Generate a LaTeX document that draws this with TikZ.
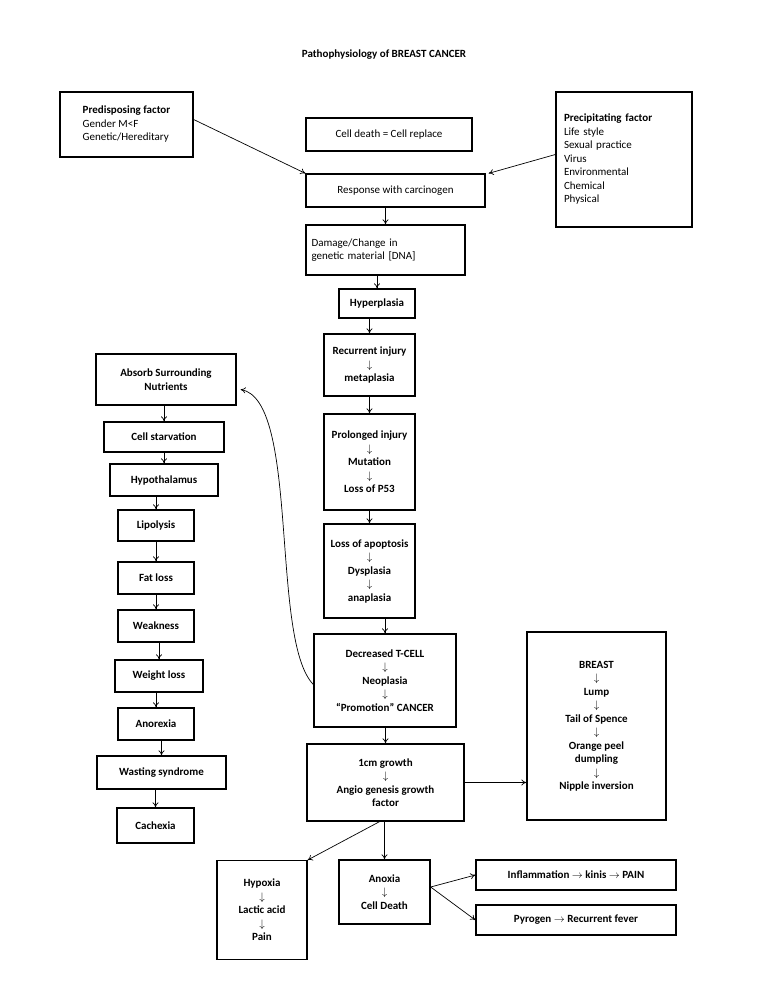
\documentclass[tikz,border=0pt]{standalone}
\usepackage{fontspec}
\setmainfont{Carlito}
\usetikzlibrary{arrows.meta}
\begin{document}
\begin{tikzpicture}[x=1pt,y=-1pt,
  box/.style={draw,line width=1.3pt,align=center,inner sep=1pt,font=\fontsize{11}{13.5}\selectfont},
  bbox/.style={box,font=\fontsize{11}{13.5}\selectfont\bfseries},
  arr/.style={-{To[length=5pt,width=6pt]},line width=0.7pt}]
\useasboundingbox (0,0) rectangle (768,994);
\newcommand{\da}{$\downarrow$}
\node[font=\fontsize{11}{13}\selectfont\bfseries] (title) at (384,55) {Pathophysiology of BREAST CANCER};
% top
\node[box,minimum width=133pt,minimum height=65pt,align=left] (pre) at (126.5,124.5) {\textbf{Predisposing factor}\\Gender M<F\\Genetic/Hereditary};
\node[box,minimum width=166pt,minimum height=33pt] (cd) at (389,134.5) {Cell death = Cell replace};
\node[box,minimum width=136pt,minimum height=135pt,align=left,text width=120pt] (prec) at (624,159.5) {\textbf{Precipitating factor}\\Life style\\Sexual practice\\Virus\\Environmental\\Chemical\\Physical};
\node[box,minimum width=179pt,minimum height=33pt] (resp) at (395.5,190.5) {Response with carcinogen};
\node[box,minimum width=159pt,minimum height=50pt,align=left,text width=148pt] (dam) at (385.5,250) {Damage/Change in\\genetic material [DNA]};
\node[bbox,minimum width=76pt,minimum height=29pt] (hyp) at (377,303.5) {Hyperplasia};
\node[bbox,minimum width=91pt,minimum height=62pt] (rec) at (369.5,365) {Recurrent injury\\\da\\metaplasia};
\node[bbox,minimum width=91pt,minimum height=96pt] (pro) at (369.5,462) {Prolonged injury\\\da\\Mutation\\\da\\Loss of P53};
\node[bbox,minimum width=91pt,minimum height=94pt] (apo) at (369.5,571) {Loss of apoptosis\\\da\\Dysplasia\\\da\\anaplasia};
\node[bbox,minimum width=142pt,minimum height=93pt] (tc) at (385,680.5) {Decreased T-CELL\\\da\\Neoplasia\\\da\\``Promotion'' CANCER};
\node[bbox,minimum width=157pt,minimum height=77pt] (gr) at (385.5,782.5) {1cm growth\\\da\\Angio genesis growth\\factor};
\node[bbox,minimum width=139pt,minimum height=188pt] (br) at (596.5,726) {BREAST\\\da\\Lump\\\da\\Tail of Spence\\\da\\Orange peel\\dumpling\\\da\\Nipple inversion};
\node[bbox,minimum width=90pt,minimum height=99pt,anchor=north] (hx) at (262,860) {Hypoxia\\\da\\Lactic acid\\\da\\Pain};
\node[bbox,minimum width=91pt,minimum height=64pt] (an) at (384.5,892) {Anoxia\\\da\\Cell Death};
\node[bbox,minimum width=200pt,minimum height=30pt] (inf) at (576,875) {Inflammation $\rightarrow$ kinis $\rightarrow$ PAIN};
\node[bbox,minimum width=200pt,minimum height=30pt] (pyr) at (576,920) {Pyrogen $\rightarrow$ Recurrent fever};
% left column
\node[bbox,minimum width=140pt,minimum height=51pt] (ab) at (166,379.5) {Absorb Surrounding\\Nutrients};
\node[bbox,minimum width=120pt,minimum height=30pt] (cs) at (164,437) {Cell starvation};
\node[bbox,minimum width=108pt,minimum height=32pt] (ht) at (164,480) {Hypothalamus};
\node[bbox,minimum width=76pt,minimum height=31pt] (li) at (156,525.5) {Lipolysis};
\node[bbox,minimum width=76pt,minimum height=32pt] (fl) at (156,578) {Fat loss};
\node[bbox,minimum width=76pt,minimum height=32pt] (wk) at (156,626) {Weakness};
\node[bbox,minimum width=88pt,minimum height=32pt] (wl) at (159,676) {Weight loss};
\node[bbox,minimum width=76pt,minimum height=32pt] (ax) at (156,724) {Anorexia};
\node[bbox,minimum width=129pt,minimum height=33pt] (ws) at (161.5,772.5) {Wasting syndrome};
\node[bbox,minimum width=77pt,minimum height=35pt] (ca) at (155.5,825.5) {Cachexia};
% connectors
\draw[arr] (pre.east) ++(0,-5) -- (resp.north west);
\draw[arr] (prec.west) ++(0,-5) -- ([xshift=3pt]resp.north east);
\foreach \a/\b in {resp/dam,dam/hyp,hyp/rec,rec/pro,pro/apo,apo/tc,tc/gr,gr/an}
  \draw[arr] (\a.south -| \b) -- (\b.north);
\foreach \a/\b in {ab/cs,cs/ht,ht/li,li/fl,fl/wk,wk/wl,wl/ax,ax/ws,ws/ca}
  \draw[arr] (\a.south -| \b) -- (\b.north);
\draw[arr] (gr.east) -- (br.west |- gr.east);
\draw[arr] ([xshift=-6pt]gr.south) -- (hx.north east);
\draw[arr] (an.east) ++(0,-5) -- (inf.west);
\draw[arr] (an.east) ++(0,-5) -- (pyr.west);
\coordinate (ct) at (tc.west);
\draw[arr] ([yshift=-4pt]ct) .. controls (270,640) and (300,400) .. ([xshift=4pt,yshift=-10pt]ab.east);
\end{tikzpicture}
\end{document}
